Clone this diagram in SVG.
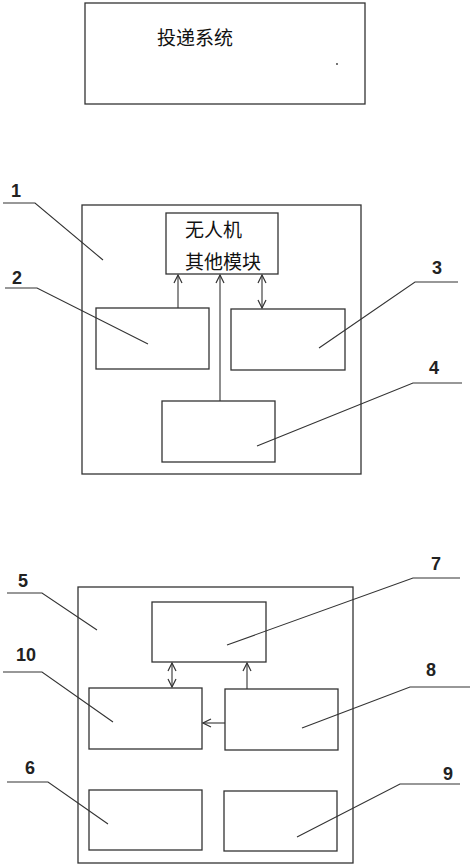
<svg xmlns="http://www.w3.org/2000/svg" width="474" height="868" viewBox="0 0 474 868">
<defs>
<style>
.box{fill:none;stroke:#333;stroke-width:1.3}
.ln{fill:none;stroke:#333;stroke-width:1.1}
.num{font-family:"Liberation Sans",Arial,sans-serif;font-size:18px;font-weight:bold;fill:#222;text-anchor:middle}
.cn{font-family:"Noto Sans CJK SC","Liberation Sans",sans-serif;font-size:19px;fill:#111}
</style>
<marker id="ah" viewBox="0 0 10 10" refX="9" refY="5" markerWidth="10" markerHeight="10" markerUnits="userSpaceOnUse" orient="auto-start-reverse">
<path d="M1,1 L9,5 L1,9" fill="none" stroke="#333" stroke-width="1.2"/>
</marker>
</defs>
<rect width="474" height="868" fill="#fff"/>

<g id="delivery">
<rect class="box" x="85" y="3" width="280" height="101"/>
<text class="cn" x="157" y="45">投递系统</text>
<circle cx="337" cy="64" r="0.9" fill="#333"/>
</g>

<g id="node1">
<rect class="box" x="82" y="205" width="279" height="269"/>
</g>
<g id="uav-other">
<rect class="box" x="166" y="213" width="112" height="61"/>
<text class="cn" x="185" y="237">无人机</text>
<text class="cn" x="185" y="269">其他模块</text>
</g>
<g id="node2"><rect class="box" x="96" y="308" width="113" height="61"/></g>
<g id="node3"><rect class="box" x="231" y="309" width="114" height="61"/></g>
<g id="node4"><rect class="box" x="162" y="401" width="113" height="61"/></g>

<g id="node5"><rect class="box" x="78" y="587" width="275" height="276"/></g>
<g id="node7"><rect class="box" x="152" y="602" width="114" height="60"/></g>
<g id="node10"><rect class="box" x="89" y="688" width="113" height="61"/></g>
<g id="node8"><rect class="box" x="225" y="689" width="113" height="61"/></g>
<g id="node6"><rect class="box" x="89" y="790" width="113" height="60"/></g>
<g id="node9"><rect class="box" x="224" y="791" width="113" height="60"/></g>

<g id="connectors">
<line class="ln" x1="178" y1="308" x2="178" y2="275" marker-end="url(#ah)"/>
<line class="ln" x1="220" y1="401" x2="220" y2="275" marker-end="url(#ah)"/>
<line class="ln" x1="262" y1="275" x2="262" y2="308" marker-start="url(#ah)" marker-end="url(#ah)"/>
<line class="ln" x1="172" y1="663" x2="172" y2="687" marker-start="url(#ah)" marker-end="url(#ah)"/>
<line class="ln" x1="247" y1="689" x2="247" y2="663" marker-end="url(#ah)"/>
<line class="ln" x1="225" y1="723" x2="203" y2="723" marker-end="url(#ah)"/>
</g>

<g id="labels">
<text class="num" x="16" y="197">1</text>
<polyline class="ln" points="3,203 35,203 103,260"/>
<text class="num" x="17" y="284">2</text>
<polyline class="ln" points="5,288 37,288 148,344"/>
<text class="num" x="437" y="274">3</text>
<polyline class="ln" points="458,282 415,282 319,348"/>
<text class="num" x="434" y="374">4</text>
<polyline class="ln" points="462,383 413,383 257,446"/>
<text class="num" x="23" y="587">5</text>
<polyline class="ln" points="7,593 42,593 97,630"/>
<text class="num" x="436" y="570">7</text>
<polyline class="ln" points="460,578 413,578 227,645"/>
<text class="num" x="26" y="661">10</text>
<polyline class="ln" points="3,672 42,672 113,722"/>
<text class="num" x="431" y="676">8</text>
<polyline class="ln" points="470,687 410,687 302,728"/>
<text class="num" x="30" y="774">6</text>
<polyline class="ln" points="7,782 48,782 108,824"/>
<text class="num" x="448" y="780">9</text>
<polyline class="ln" points="460,784 400,784 297,837"/>
</g>
</svg>
